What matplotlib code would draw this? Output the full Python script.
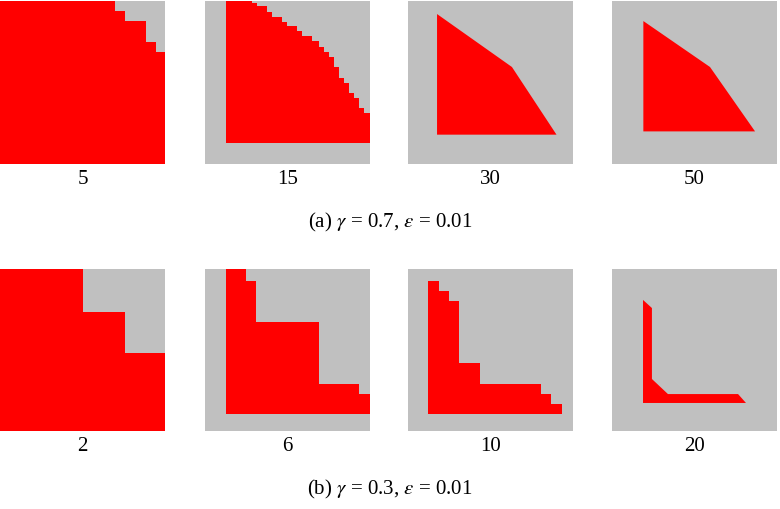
import matplotlib
matplotlib.use("Agg")
import matplotlib.pyplot as plt
from matplotlib.patches import Polygon

plt.rcParams['mathtext.fontset'] = 'stix'
plt.rcParams['font.family'] = ['Liberation Serif', 'DejaVu Serif']

# Staircase panels: left edge, bottom edge, steps (x_end, top_y)
row_a_labels = ["5", "15", "30", "50"]
row_b_labels = ["2", "6", "10", "20"]
caption_a = r"(a) $\gamma$ = 0.7, $\epsilon$ = 0.01"
caption_b = r"(b) $\gamma$ = 0.3, $\epsilon$ = 0.01"

a1_steps = [(0.70, 1.0), (0.76, 0.94), (0.885, 0.876), (0.945, 0.75), (1.0, 0.69)]
a1_box = (0.0, 0.0)
a2_pts_x = [0.274, 0.285, 0.315, 0.376, 0.407, 0.468, 0.498, 0.559, 0.59, 0.651, 0.691, 0.721,
            0.752, 0.782, 0.813, 0.843, 0.874, 0.904, 0.935, 0.965, 1.0]
a2_pts_y = [1.0, 0.988, 0.967, 0.934, 0.90, 0.873, 0.849, 0.814, 0.783, 0.753, 0.72, 0.685,
            0.654, 0.593, 0.526, 0.497, 0.434, 0.403, 0.342, 0.311, 0.28]
a2_box = (0.128, 0.13)
a3_poly = [(0.176, 0.92), (0.63, 0.595), (0.90, 0.18), (0.176, 0.18)]
a4_poly = [(0.19, 0.877), (0.594, 0.595), (0.867, 0.20), (0.19, 0.20)]

b1_steps = [(0.503, 1.0), (0.758, 0.735), (1.0, 0.48)]
b1_box = (0.0, 0.0)
b2_steps = [(0.25, 1.0), (0.311, 0.926), (0.689, 0.673), (0.933, 0.29), (1.0, 0.228)]
b2_box = (0.128, 0.105)
b3_steps = [(0.188, 0.926), (0.248, 0.864), (0.309, 0.802), (0.436, 0.42), (0.806, 0.29),
            (0.867, 0.228), (0.933, 0.167)]
b3_box = (0.121, 0.105)
b4_poly = [(0.188, 0.809), (0.242, 0.759), (0.242, 0.321), (0.339, 0.228), (0.764, 0.228),
           (0.812, 0.173), (0.188, 0.173)]


def stair_poly(steps, box):
    x0, y0 = box
    verts = [(x0, y0), (x0, steps[0][1])]
    for i, (xe, yt) in enumerate(steps):
        verts.append((xe, yt))
        if i + 1 < len(steps):
            verts.append((xe, steps[i + 1][1]))
    verts.append((steps[-1][0], y0))
    return verts


def pts_to_steps(xs, ys):
    return [(xs[i + 1], ys[i]) for i in range(len(xs) - 1)] + [(1.0, ys[-1])]


GRAY = '#c0c0c0'
RED = '#ff0000'
fig = plt.figure(figsize=(7.8, 5.1), dpi=100)
lefts = [0.0, 205 / 780, 408 / 780, 612 / 780]
w = 165 / 780

panels_a = [stair_poly(a1_steps, a1_box),
            stair_poly([(a2_pts_x[0], 1.0)] + pts_to_steps(a2_pts_x, a2_pts_y)[:], a2_box),
            a3_poly, a4_poly]
panels_b = [stair_poly(b1_steps, b1_box), stair_poly(b2_steps, b2_box),
            stair_poly(b3_steps, b3_box), b4_poly]

for row, (polys, labels, bottom, h) in enumerate([(panels_a, row_a_labels, 1 - 165 / 510, 163 / 510),
                                                   (panels_b, row_b_labels, 1 - 432 / 510, 162 / 510)]):
    for i in range(4):
        ax = fig.add_axes([lefts[i], bottom, w, h])
        ax.set_facecolor(GRAY)
        ax.add_patch(Polygon(polys[i], closed=True, facecolor=RED, edgecolor='none'))
        ax.set_xlim(0, 1)
        ax.set_ylim(0, 1)
        ax.set_xticks([])
        ax.set_yticks([])
        for s in ax.spines.values():
            s.set_visible(False)
        ax.text(0.5, -0.03, labels[i], transform=ax.transAxes, ha='center', va='top', fontsize=15)

fig.text(0.5, 1 - 222 / 510, caption_a, ha='center', va='center', fontsize=15)
fig.text(0.5, 1 - 489 / 510, caption_b, ha='center', va='center', fontsize=15)
fig.savefig("out.png", dpi=100)
